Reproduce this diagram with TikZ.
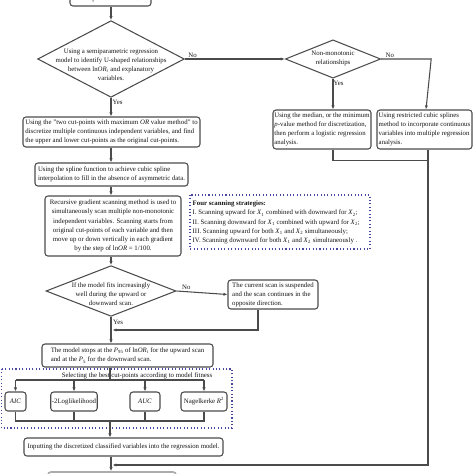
\documentclass[tikz,border=0pt]{standalone}
\usepackage{fontspec}
\setmainfont{Liberation Serif}
\usetikzlibrary{arrows.meta}
\usetikzlibrary{calc}
\usetikzlibrary{positioning}
\usetikzlibrary{shapes.geometric}
\definecolor{linec}{RGB}{75,75,75}
\definecolor{dotc}{RGB}{70,70,160}
\newcommand{\fnt}{\fontsize{5.8}{7.8}\selectfont}
\newcommand{\vx}[1]{\textit{X}\textsubscript{#1}}
\newcommand{\lnor}{ln\textit{OR}\textsubscript{\textit{i}}}

\begin{document}
\begin{tikzpicture}[x=0.03cm, y=-0.03cm, >={Latex[length=3.4pt,width=2.8pt]}]
\tikzset{box/.style={draw=linec, line width=0.9pt, rounded corners=2.5pt, inner sep=1pt, font=\fnt, text=black!92}}
\tikzset{dia/.style={draw=linec, line width=0.9pt, diamond, inner sep=0pt}}
\tikzset{txt/.style={font=\fnt, text=black!92, inner sep=0pt, align=center}}
\tikzset{dotbox/.style={draw=dotc, dotted, line width=0.9pt}}
\tikzset{conn/.style={draw=linec, line width=0.9pt}}
	\useasboundingbox (0,0) rectangle (474,474);
	\clip (0,0) rectangle (474,474);
	\coordinate (mainx) at (111,0);
	
	% left column
	\node [box, minimum width = 2.43cm, minimum height = 0.45cm] (top) at (110.5,-1.5) 
	{independent variables};
	\node [dia, minimum width = 4.4cm, minimum height = 2.3cm] (d1) at (111,59) {};
	\node [txt] (d1t) at (111,65) {Using a semiparametric regression\\model to identify 
	U-shaped relationships\\between \lnor{} and explanatory\\variables.};
	\node [box, align = left, minimum width = 5.31cm, minimum height = 0.9cm] (b2) at 
	(111.5,132) {Using the "two cut-points with maximum \textit{OR} value method" to\\
	discretize multiple continuous independent variables, and find\\the upper and lower 
	cut-points as the original cut-points.};
	\node [box, align = left, minimum width = 4.59cm, minimum height = 0.69cm] (b3) at 
	(111.5,174.5) {Using the spline function to achieve cubic spline\\interpolation to fill 
	in the absence of asymmetric data.};
	\node [box, align = center, minimum width = 4.08cm, minimum height = 1.8cm] (b4) at 
	(113,226) {Recursive gradient scanning method is used to\\simultaneously scan multiple 
	non-monotonic\\independent variables. Scanning starts from\\original cut-points of each 
	variable and then\\move up or down vertically in each gradient\\by the step of 
	ln\textit{OR} = 1/100.};
	\node [dia, minimum width = 3.9cm, minimum height = 1.52cm] (d3) at (111,291) {};
	\node [txt] (d3t) at (111,294) {If the model fits increasingly\\well during the upward 
	or\\downward scan.};
	\node [box, align = left, minimum width = 2.7cm, minimum height = 0.87cm] (b5) at 
	(273,294.5) {The current scan is suspended\\and the scan continues in the\\opposite 
	direction.};
	\node [box, align = left, minimum width = 5.13cm, minimum height = 0.69cm] (b6) at 
	(127.5,355.5) {The model stops at the \textit{P}\textsubscript{95} of \lnor{} for the 
	upward scan\\and at the \textit{P}\textsubscript{5} for the downward scan.};
	
	% right column
	\node [dia, minimum width = 2.86cm, minimum height = 1.15cm] (d2) at (333,59) {};
	\node [txt] (d2t) at (333,58.5) {Non-monotonic\\relationships};
	\node [box, align = left, minimum width = 2.94cm, minimum height = 1.17cm] (bL) at 
	(322,129.5) {Using the median, or the minimum\\\textit{p}-value method for 
	discretization,\\then perform a logistic regression\\analysis.};
	\node [box, align = left, minimum width = 2.85cm, minimum height = 1.17cm] (bR) at 
	(424.5,129.5) {Using restricted cubic splines\\method to incorporate continuous\\
	variables into multiple regression\\analysis.};
	
	% scanning strategies
	\draw [dotbox] (190,195) rectangle (370,249);
	\node [txt, align = left, anchor = west] (strat) at (192.5,222.5) {\textbf{Four 
	scanning strategies:}\\I. Scanning upward for \vx{1} combined with downward for 
	\vx{2};\\II. Scanning downward for \vx{1} combined with upward for \vx{2};\\III. 
	Scanning upward for both \vx{1} and \vx{2} simultaneously;\\IV. Scanning downward for 
	both \vx{1} and \vx{2} simultaneously .};
	
	% model fitness
	\draw [dotbox] (1.5,369) rectangle (232,428);
	\node [txt] (sel) at (137,376) {Selecting the best cut-points according to model 
	fitness};
	\node [box, minimum width = 0.63cm, minimum height = 0.57cm] (aic) at (15.5,401.5) 
	{\textit{AIC}};
	\node [box, minimum width = 1.38cm, minimum height = 0.57cm] (ll) at (74,401.5) 
	{-2Loglikelihood};
	\node [box, minimum width = 0.9cm, minimum height = 0.57cm] (auc) at (145,401.5) 
	{\textit{AUC}};
	\node [box, minimum width = 1.38cm, minimum height = 0.57cm] (rsq) at (204,401.5) 
	{Nagelkerke \textit{R}\textsuperscript{2}};
	\node [box, minimum width = 5.97cm, minimum height = 0.54cm] (b7) at (123.5,447) 
	{Inputting the discretized classified variables into the regression model.};
	\node [box, draw = gray!65, line width = 1.4pt, minimum width = 3.84cm, minimum 
	height = 0.9cm] (bot) at (112,487) {};
	
	% main line
	\draw [conn, ->] (top.south -| mainx) -- (d1.north);
	\draw [conn, ->] (d1.south) -- node [txt, pos = 0.1, anchor = north west, xshift = 
	1pt] {Yes} (mainx |- b2.north);
	\draw [conn, ->] (mainx |- b2.south) -- (mainx |- b3.north);
	\draw [conn, ->] (mainx |- b3.south) -- (mainx |- b4.north);
	\draw [conn, ->] (mainx |- b4.south) -- (d3.north);
	\draw [conn, ->] (d3.south) -- (mainx |- b6.north);
	\node [txt, anchor = north west] at ($(d3.south)+(2,3)$) {Yes};
	
	% no branches
	\draw [conn, ->] (d1.east) -- node [txt, pos = 0.03, anchor = south west, yshift = 
	1pt] {No} (d2.west);
	\draw [conn, ->] (d2.east) -- node [txt, pos = 0.08, anchor = south west, yshift = 
	1pt] {No} ++(50,0) -- (bR.north -| 426,0);
	\draw [conn, ->] (d2.south) -- node [txt, pos = 0.15, anchor = west] {Yes} (d2.south 
	|- bL.north);
	\draw [conn, ->] (d3.east) -- node [txt, pos = 0.1, anchor = south west, yshift = 
	1pt] {No} (b5.west);
	\coordinate (mrg1) at (112.5,330);
	\draw [conn, ->] ($(b5.south)+(-15,0)$) |- (mrg1);
	
	% right return
	\draw [conn] (d2.south |- bL.south) -- ++(0,11) -| (428,0 |- bR.south);
	\coordinate (mrg2) at (112.5,465);
	\draw [conn, ->] (428,0 |- bR.south) |- (mrg2);
	
	% fitness branches
	\coordinate (brl) at (110,380);
	\draw [conn] (110,0 |- b6.south) -- (brl);
	\draw [conn] (brl -| aic.north) -- (brl -| rsq.north);
	\draw [conn, ->] (brl -| aic.north) -- (aic.north);
	\draw [conn, ->] (brl -| ll.north) -- (ll.north);
	\draw [conn, ->] (brl -| auc.north) -- (auc.north);
	\draw [conn, ->] (brl -| rsq.north) -- (rsq.north);
	\coordinate (mrg3) at (110,421);
	\draw [conn] (aic.south) |- (mrg3 -| rsq.south) -- (rsq.south);
	\draw [conn] (ll.south) -- (ll.south |- mrg3);
	\draw [conn] (auc.south) -- (auc.south |- mrg3);
	\draw [conn, ->] (mrg3) -- (mrg3 |- b7.north);
	\draw [conn, ->] (mainx |- b7.south) -- (mainx |- bot.north);
\end{tikzpicture}
\end{document}
